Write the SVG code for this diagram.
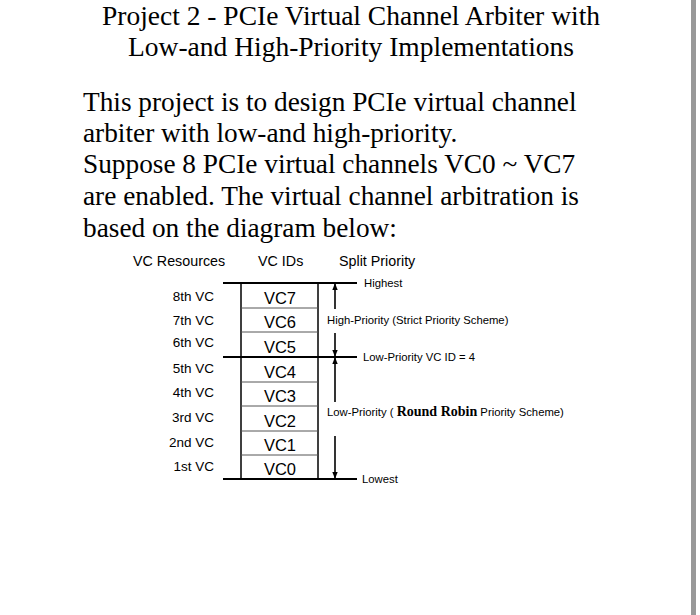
<svg xmlns="http://www.w3.org/2000/svg" width="700" height="615" viewBox="0 0 700 615">
<style>
.t{font-family:"Liberation Serif",serif;fill:#000}
.s{font-family:"Liberation Sans",sans-serif;fill:#000}
.ln{stroke:#000;fill:none}
</style>
<defs><marker id="ah" viewBox="0 0 10 10" refX="9" refY="5" markerWidth="4.5" markerHeight="5" orient="auto"><path d="M0,1 L10,5 L0,9 z" fill="#000"/></marker></defs>
<rect width="700" height="615" fill="#fff"/>
<rect x="691" y="0" width="5" height="615" fill="#999"/>
<g id="title" class="t" font-size="27.5" text-anchor="middle">
<text x="351" y="25">Project 2 - PCIe Virtual Channel Arbiter with</text>
<text x="351" y="56">Low-and High-Priority Implementations</text>
</g>
<g id="body" class="t" font-size="27.3">
<text x="83" y="111">This project is to design PCIe virtual channel</text>
<text x="83" y="142">arbiter with low-and high-priority.</text>
<text x="83" y="173">Suppose 8 PCIe virtual channels VC0 ~ VC7</text>
<text x="83" y="205">are enabled. The virtual channel arbitration is</text>
<text x="83" y="237">based on the diagram below:</text>
</g>
<g id="headers" class="s" font-size="14.3">
<text x="133" y="266">VC Resources</text><text x="258" y="266">VC IDs</text><text x="339" y="266">Split Priority</text>
</g>
<g id="resources" class="s" font-size="13.5" text-anchor="end">
<text x="214" y="301">8th VC</text><text x="214" y="325">7th VC</text><text x="214" y="347">6th VC</text>
<text x="214" y="373">5th VC</text><text x="214" y="397">4th VC</text><text x="214" y="422">3rd VC</text>
<text x="214" y="447">2nd VC</text><text x="214" y="471">1st VC</text>
</g>
<g id="ids" class="s" font-size="16.5" text-anchor="middle">
<rect x="241" y="283" width="77" height="196" class="ln" stroke-width="1.5"/>
<text x="280" y="304">VC7</text><text x="280" y="328">VC6</text><text x="280" y="353">VC5</text>
<text x="280" y="378">VC4</text><text x="280" y="402">VC3</text><text x="280" y="427">VC2</text>
<text x="280" y="451">VC1</text><text x="280" y="475">VC0</text>
</g>
<g id="connectors" class="ln">
<path d="M241 308H318M241 332H318M241 382H318M241 406H318M241 431H318M241 455H318" stroke="#555"/>
<path d="M223 283H357M223 357H357M223 479H357" stroke-width="2"/>
<path d="M335 309V284" marker-end="url(#ah)" stroke-width="1.6"/>
<path d="M335 333V356" marker-end="url(#ah)" stroke-width="1.6"/>
<path d="M335 402V358" marker-end="url(#ah)" stroke-width="1.6"/>
<path d="M335 436V478" marker-end="url(#ah)" stroke-width="1.6"/>
</g>
<g id="labels" class="s" font-size="11.3">
<text x="364" y="287">Highest</text>
<text x="327" y="324">High-Priority (Strict Priority Scheme)</text>
<text x="363" y="361">Low-Priority VC ID = 4</text>
<text x="327" y="416">Low-Priority ( <tspan class="t" font-weight="bold" font-size="14">Round Robin</tspan>  Priority Scheme)</text>
<text x="362" y="483">Lowest</text>
</g>
</svg>
